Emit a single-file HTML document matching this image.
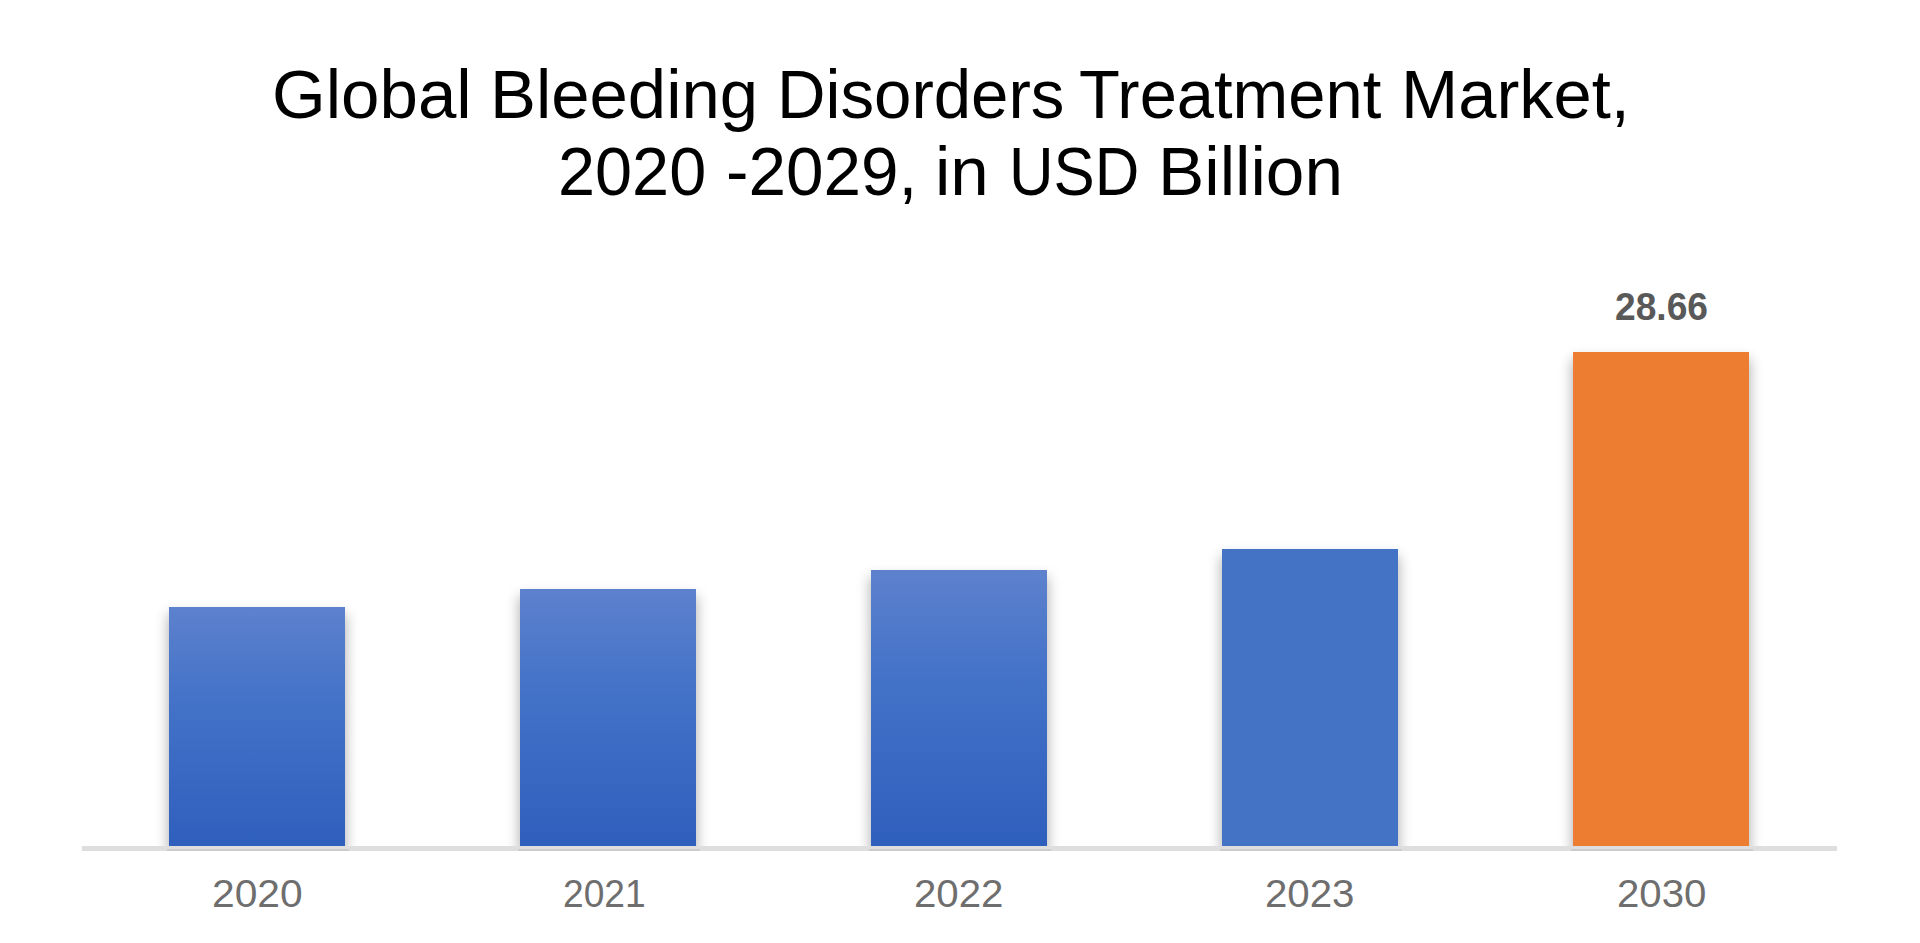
<!DOCTYPE html>
<html>
<head>
<meta charset="utf-8">
<style>
html,body{margin:0;padding:0;background:#fff;}
body{width:1920px;height:943px;position:relative;overflow:hidden;font-family:"Liberation Sans",sans-serif;}
.t{position:absolute;white-space:nowrap;line-height:1;}
.w{position:absolute;white-space:nowrap;line-height:1;font-size:68px;color:#000;transform-origin:0 0;}
#plot{position:absolute;left:0;top:0;width:1920px;height:851px;overflow:hidden;}
.bar{position:absolute;width:176px;box-shadow:0 8px 12px 1px rgba(0,0,0,0.30);}
.g{background:linear-gradient(to bottom,#5d81cd 0%,#4372c8 40%,#2f5fbd 100%);}
.ush{position:absolute;top:849px;width:182px;height:2px;background:rgba(0,0,0,0.08);}
#axis{position:absolute;left:82px;top:846px;width:1755px;height:5px;background:#dedede;}
.yr{position:absolute;top:874px;font-size:39px;color:#6e6e6e;line-height:1;white-space:nowrap;transform-origin:0 0;}
#val{position:absolute;top:287px;left:1614.7px;font-size:39px;font-weight:bold;color:#595959;line-height:1;white-space:nowrap;transform-origin:0 0;transform:scaleX(0.9526);}
</style>
</head>
<body>
<span class="w" style="left:272.0px;top:60px;transform:scaleX(1.0159);">Global</span>
<span class="w" style="left:489.9px;top:60px;transform:scaleX(1.0130);">Bleeding</span>
<span class="w" style="left:776.7px;top:60px;transform:scaleX(0.9879);">Disorders</span>
<span class="w" style="left:1079.1px;top:60px;transform:scaleX(0.9833);">Treatment</span>
<span class="w" style="left:1400.8px;top:60px;transform:scaleX(1.0098);">Market,</span>
<span class="w" style="left:558.1px;top:137px;transform:scaleX(0.9795);">2020</span>
<span class="w" style="left:725.6px;top:137px;transform:scaleX(0.9924);">-2029,</span>
<span class="w" style="left:935.4px;top:137px;transform:scaleX(1.0163);">in</span>
<span class="w" style="left:1009.0px;top:137px;transform:scaleX(0.9074);">USD</span>
<span class="w" style="left:1157.9px;top:137px;transform:scaleX(1.0193);">Billion</span>

<div id="plot">
<div class="bar g" style="left:169px;top:607px;height:239px;"></div>
<div class="bar g" style="left:520px;top:589px;height:257px;"></div>
<div class="bar g" style="left:871px;top:570px;height:276px;"></div>
<div class="bar" style="left:1222px;top:549px;height:297px;background:#4472c4;"></div>
<div class="bar" style="left:1573px;top:352px;height:494px;background:#ed7d31;"></div>
</div>
<div id="axis"></div>
<div class="ush" style="left:167px;"></div>
<div class="ush" style="left:518px;"></div>
<div class="ush" style="left:869px;"></div>
<div class="ush" style="left:1220px;"></div>
<div class="ush" style="left:1571px;"></div>

<div id="val">28.66</div>

<div class="yr" style="left:212.2px;transform:scaleX(1.0446);">2020</div>
<div class="yr" style="left:563.2px;transform:scaleX(0.9518);">2021</div>
<div class="yr" style="left:914.1px;transform:scaleX(1.0313);">2022</div>
<div class="yr" style="left:1265.3px;transform:scaleX(1.0313);">2023</div>
<div class="yr" style="left:1617.4px;transform:scaleX(1.0301);">2030</div>
</body>
</html>
